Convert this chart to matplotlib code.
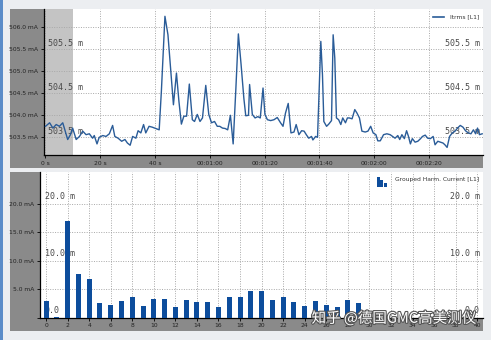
import matplotlib
matplotlib.use('Agg')
import matplotlib.pyplot as plt
from matplotlib.patches import Rectangle
import matplotlib.patheffects as pe

# ---------------- data ----------------
# Itrms [L1] time series (seconds, mA)
time_s = [0, 1.5, 2.7, 3.9, 5.1, 6.3, 7.2, 8.1, 9.1, 9.9, 11.2, 12.4, 13.6, 14.8, 16.0,
          17.2, 17.8, 18.8, 19.6, 20.9, 22.1, 23.3, 24.5, 25.3, 26.5, 27.8, 29.0, 29.9,
          30.9, 31.8, 33.0, 33.8, 34.8, 35.8, 36.6, 37.8, 39.0, 40.2, 41.5, 42.3, 43.6,
          44.7, 45.7, 46.7, 47.8, 48.7, 49.6, 50.5, 51.5, 52.5, 53.6, 54.4, 55.4, 56.4,
          57.3, 58.5, 59.6, 60.6, 61.7, 62.7, 63.6, 64.6, 65.6, 66.5, 67.5, 68.5, 69.5,
          70.4, 71.4, 72.4, 73.1, 74.1, 74.5, 75.5, 76.5, 77.5, 78.4, 79.4,
          80.1, 81.0, 82.2, 83.4, 84.6, 85.8, 86.7, 87.6, 88.6, 89.6, 90.7, 91.5, 92.5,
          93.5, 94.4, 95.3, 96.1, 97.1, 97.6, 98.6, 99.3, 100.5, 101.1, 101.6, 102.6,
          103.4, 104.4, 105.0, 105.6, 106.2, 107.0, 107.8, 108.5, 109.5, 110.2, 110.9,
          111.9, 112.9, 113.7, 114.6, 115.5, 116.7, 117.7, 118.7, 119.6, 120.6, 121.3,
          122.2, 123.4, 124.6, 125.8, 126.7, 127.6, 128.6, 129.3, 130.1, 131.0, 131.8,
          132.5, 133.2, 133.9, 134.9, 135.9, 136.9, 137.6, 138.6, 139.5, 140.5, 141.5,
          142.2, 143.2, 144.1, 145.1, 145.8, 146.6, 147.5, 148.5, 149.5, 150.4, 151.4,
          152.4, 153.3, 154.3, 155.3, 156.2, 157.0, 157.7, 158.4, 159.4]
itrms_mA = [503.75, 503.83, 503.71, 503.79, 503.75, 503.83, 503.64, 503.45, 503.56, 503.71,
            503.45, 503.52, 503.64, 503.56, 503.58, 503.48, 503.54, 503.35, 503.50, 503.54,
            503.52, 503.58, 503.77, 503.52, 503.48, 503.41, 503.45, 503.37, 503.32, 503.52,
            503.48, 503.65, 503.60, 503.79, 503.60, 503.75, 503.73, 503.70, 503.67, 504.55,
            506.25, 505.83, 505.04, 504.24, 504.96, 504.32, 503.80, 503.98, 503.98, 504.71,
            503.90, 503.86, 504.02, 503.86, 503.94, 504.68, 504.02, 503.83, 503.86, 503.75,
            503.75, 503.71, 503.70, 503.67, 504.00, 503.35, 504.62, 505.85, 505.15, 504.39,
            503.99, 504.00, 504.70, 504.02, 503.94, 503.97, 503.94, 504.62,
            504.02, 503.90, 503.88, 503.90, 503.95, 503.83, 503.75, 504.05, 504.27, 503.60,
            503.62, 503.79, 503.56, 503.65, 503.64, 503.55, 503.48, 503.52, 503.44, 503.52,
            503.50, 505.68, 504.92, 503.86, 503.75, 503.80, 503.88, 505.83, 505.30, 503.94,
            503.90, 503.79, 503.94, 503.83, 503.94, 503.94, 503.92, 504.13, 504.05, 503.94,
            503.64, 503.62, 503.64, 503.75, 503.60, 503.56, 503.42, 503.42, 503.56, 503.58,
            503.56, 503.52, 503.48, 503.54, 503.45, 503.56, 503.47, 503.65, 503.52, 503.35,
            503.47, 503.39, 503.41, 503.47, 503.52, 503.55, 503.48, 503.47, 503.52, 503.33,
            503.41, 503.39, 503.37, 503.33, 503.27, 503.52, 503.60, 503.64, 503.71, 503.77,
            503.73, 503.65, 503.60, 503.58, 503.67, 503.58, 503.71, 503.56, 503.58]

time_ticks = [0, 20, 40, 60, 80, 100, 120, 140]
time_labels = ['0 s', '20 s', '40 s', '00:01:00', '00:01:20', '00:01:40', '00:02:00', '00:02:20']
top_yticks = [503.5, 504.0, 504.5, 505.0, 505.5, 506.0]
top_side_labels = [505.5, 504.5, 503.5]

# Grouped harmonic current [L1], harmonic order 0..29 (mA)
harm_order = list(range(0, 30))
harm_mA = [2.9, 0.1, 17.0, 7.6, 6.8, 2.5, 2.2, 2.9, 3.6, 2.05,
           3.3, 3.3, 1.9, 3.05, 2.8, 2.7, 1.8, 3.6, 3.6, 4.7,
           4.7, 3.05, 3.6, 2.75, 2.05, 2.9, 2.3, 1.9, 3.15, 2.5]
harm_ticks = list(range(0, 41, 2))
bot_yticks = [0, 5, 10, 15, 20]
bot_side_labels = [20.0, 10.0, 0.0]

# ---------------- figure ----------------
W, H = 491, 340
fig = plt.figure(figsize=(W / 100, H / 100), dpi=100, facecolor='#eceef1')

def frect(x0, y0, x1, y1):
    return [x0 / W, 1 - y1 / H, (x1 - x0) / W, (y1 - y0) / H]

def add_bg(x0, y0, x1, y1, color):
    r = frect(x0, y0, x1, y1)
    fig.patches.append(Rectangle((r[0], r[1]), r[2], r[3], transform=fig.transFigure,
                                 facecolor=color, edgecolor='none', zorder=-5))

add_bg(0, 0, 3, 340, '#5b8cc8')
add_bg(10, 9, 483, 167.5, '#8a8a8a')
add_bg(10, 172, 483, 331, '#8a8a8a')

PANEL_TXT = '#222222'
GRID = dict(color='#a8a8a8', linestyle=(0, (1, 1.5)), linewidth=0.7)
LINE_COLOR = '#2a5c98'
BAR_COLOR = '#0d4d9c'
MONO = dict(family='DejaVu Sans Mono', fontsize=6, color='#4a4a4a')

def style_axes(ax):
    for s in ('top', 'right'):
        ax.spines[s].set_visible(False)
    for s in ('left', 'bottom'):
        ax.spines[s].set_color('black')
        ax.spines[s].set_linewidth(0.9)
    ax.tick_params(direction='out', length=2.5, width=0.6, labelsize=4.3,
                   colors='black', labelcolor=PANEL_TXT, pad=1.5)
    ax.set_facecolor('white')
    ax.set_axisbelow(True)

# ---- top: time series ----
ax1 = fig.add_axes(frect(43.5, 9, 483, 155))
style_axes(ax1)
ax1.set_xlim(-0.73, 159.7)
ax1.set_ylim(503.098, 506.416)
ax1.axvspan(-0.73, 10.15, color='#c4c4c4', zorder=0.5, lw=0)
ax1.set_xticks(time_ticks)
ax1.set_xticklabels(time_labels)
ax1.set_yticks(top_yticks)
ax1.set_yticklabels([f'{v:.1f} mA' for v in top_yticks])
ax1.grid(True, **GRID)
ax1.plot(time_s, itrms_mA, color=LINE_COLOR, lw=1.0, zorder=4)
for v in top_side_labels:
    ax1.text(1.0, v + 0.14, f'{v:.1f} m', ha='left', va='center', zorder=3, **MONO)
    ax1.text(158.5, v + 0.14, f'{v:.1f} m', ha='right', va='center', zorder=3, **MONO)
# legend
lx0 = (432.7 - 43.5) / 439.5
lx1 = (444 - 43.5) / 439.5
ly = (155 - 17) / 146
ax1.plot([lx0, lx1], [ly, ly], transform=ax1.transAxes, color=LINE_COLOR, lw=1.2,
         clip_on=False, zorder=5)
ax1.text((450.5 - 43.5) / 439.5, ly, 'Itrms [L1]', transform=ax1.transAxes,
         fontsize=4.3, color='#333333', ha='left', va='center', zorder=5)

# ---- bottom: harmonics ----
ax2 = fig.add_axes(frect(40, 172, 483, 317.7))
style_axes(ax2)
ax2.set_xlim(-0.56, 40.54)
ax2.set_ylim(0, 25.56)
ax2.set_xticks(harm_ticks)
ax2.set_xticklabels([str(h) for h in harm_ticks])
ax2.set_yticks(bot_yticks)
ax2.set_yticklabels(['' if v == 0 else f'{v:.1f} mA' for v in bot_yticks])
ax2.grid(True, **GRID)
ax2.bar(harm_order, harm_mA, width=0.46, color=BAR_COLOR, zorder=3)
for v in bot_side_labels:
    txt = f'{v:.1f} m' if v > 0 else f'{v:.1f}'
    ax2.text(-0.1, v + 1.2, txt, ha='left', va='center', zorder=2.5, **MONO)
    ax2.text(40.25, v + 1.2, txt, ha='right', va='center', zorder=2.5, **MONO)
# legend (bar icon)
def px2ax2(x, y):
    return ((x - 40) / 443, (317.7 - y) / 145.7)
for (xa, xb, ytop) in [(377.3, 379.8, 176.7), (380.3, 383.0, 180.0), (383.6, 386.5, 183.3)]:
    a = px2ax2(xa, 186.7)
    b = px2ax2(xb, ytop)
    ax2.add_patch(Rectangle(a, b[0] - a[0], b[1] - a[1], transform=ax2.transAxes,
                            facecolor=BAR_COLOR, edgecolor='none', zorder=5, clip_on=False))
tx, ty = px2ax2(395.3, 180)
ax2.text(tx, ty, 'Grouped Harm. Current [L1]', transform=ax2.transAxes, fontsize=4.3,
         color='#333333', ha='left', va='center', zorder=5)

# watermark
fig.text(311.5 / W, 1 - 318.5 / H, '知乎 @德国GMC高美测仪',
         family=['Noto Sans CJK SC', 'DejaVu Sans'], fontsize=10.5, color='white',
         ha='left', va='center', zorder=10,
         path_effects=[pe.withStroke(linewidth=1.6, foreground='#555555')])

fig.savefig('out.png', dpi=100, facecolor=fig.get_facecolor())
